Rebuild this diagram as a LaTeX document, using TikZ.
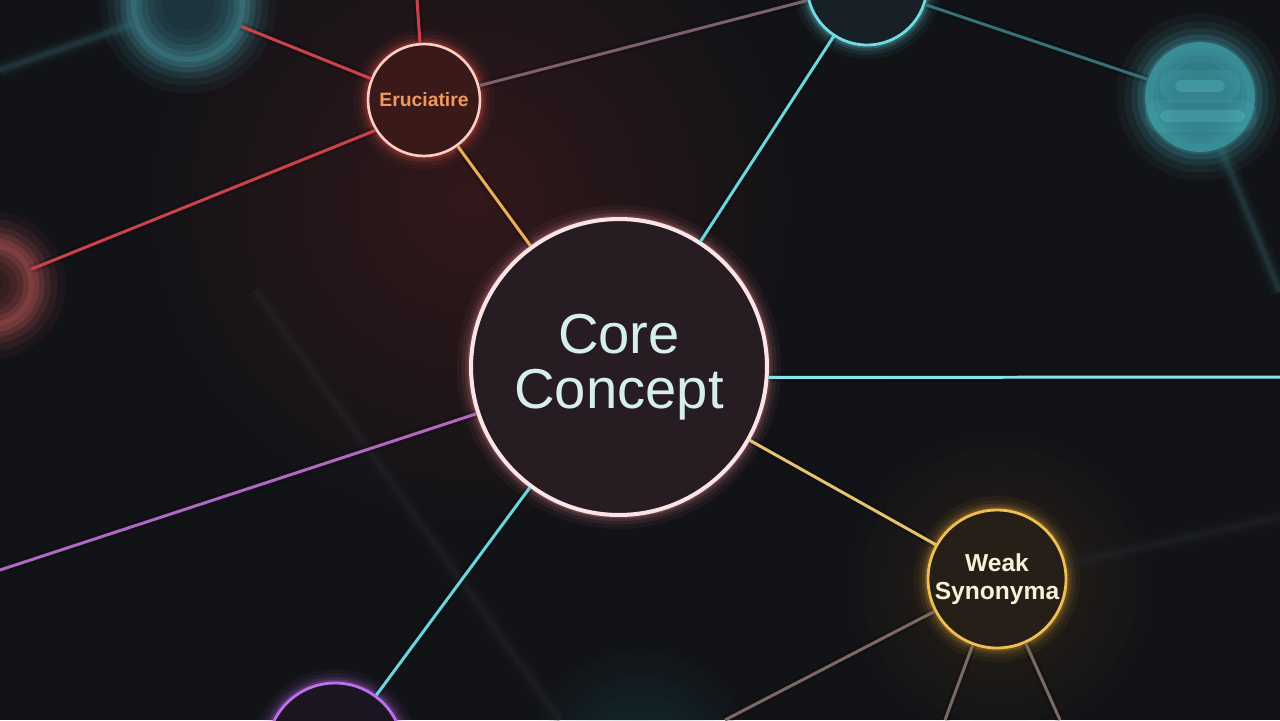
\documentclass[tikz,border=0pt]{standalone}
\usepackage{fontspec}
\setmainfont{Liberation Sans}
\usetikzlibrary{calc}

\definecolor{bgdark}{RGB}{18,19,23}
\definecolor{redglow}{RGB}{50,24,26}
\definecolor{goldglow}{RGB}{110,85,40}
\definecolor{tealglow}{RGB}{50,130,140}
\definecolor{corefill}{RGB}{38,28,33}
\definecolor{corering}{RGB}{250,228,232}
\definecolor{coreglow}{RGB}{240,140,150}
\definecolor{coretext}{RGB}{215,238,238}
\definecolor{erfill}{RGB}{58,25,25}
\definecolor{erring}{RGB}{252,205,195}
\definecolor{erglow}{RGB}{235,80,70}
\definecolor{ertext}{RGB}{242,152,92}
\definecolor{weakfill}{RGB}{38,31,24}
\definecolor{weakring}{RGB}{238,192,82}
\definecolor{weakglow}{RGB}{230,165,55}
\definecolor{weaktext}{RGB}{250,240,215}
\definecolor{topfill}{RGB}{22,32,38}
\definecolor{topring}{RGB}{110,222,228}
\definecolor{purpfill}{RGB}{28,21,34}
\definecolor{purpring}{RGB}{188,112,236}
\definecolor{tlfill}{RGB}{30,52,60}
\definecolor{tlring}{RGB}{75,160,172}
\definecolor{trfill}{RGB}{45,118,128}
\definecolor{trring}{RGB}{70,165,175}
\definecolor{trbar}{RGB}{95,200,210}
\definecolor{lfill}{RGB}{45,27,29}
\definecolor{lring}{RGB}{205,95,95}
\definecolor{rededge}{RGB}{205,65,75}
\definecolor{mauveedge}{RGB}{125,95,110}
\definecolor{orangeedge}{RGB}{235,175,85}
\definecolor{cyanedge}{RGB}{105,215,225}
\definecolor{brightcyan}{RGB}{135,230,240}
\definecolor{purpedge}{RGB}{175,105,195}
\definecolor{goldedge}{RGB}{230,195,110}
\definecolor{brownedge}{RGB}{125,105,100}
\definecolor{tealedge}{RGB}{55,112,120}
\definecolor{faintedge}{RGB}{44,48,52}

\def\glowring[#1](#2)(#3){\foreach \w/\o in {16/0.05,11/0.08,7/0.12,4/0.2}{\draw[#1, line width=\w pt, opacity=\o] (#2) circle (#3);}}
\def\blurring[#1](#2)(#3){\foreach \w/\o in {36/0.06,27/0.09,19/0.13,12/0.18,6/0.22}{\draw[#1, line width=\w pt, opacity=\o] (#2) circle (#3);}}
\def\blurline[#1](#2)(#3){\foreach \w/\o in {10/0.07,6/0.12,3/0.2}{\draw[#1, line width=\w pt, opacity=\o] (#2) -- (#3);}}
\def\softspot[#1](#2)(#3){\foreach \f in {1,0.92,...,0.3}{\fill[#1, opacity=0.025] (#2) circle (\f*#3);}}

\tikzset{
	edge/.style={line width=1.7pt, preaction={draw, line width=5pt, opacity=0.15}},
	bubble/.style={circle, inner sep=0pt, align=center},
	blurnode/.style={circle, inner sep=0pt},
	corenode/.style={bubble, draw=corering, line width=2.3pt, fill=corefill, minimum size=5.92cm, text=coretext, font=\fontsize{32}{31}\selectfont},
	erudnode/.style={bubble, draw=erring, line width=1.5pt, fill=erfill, minimum size=2.24cm, text=ertext, font=\bfseries\fontsize{11}{13}\selectfont},
	weaknode/.style={bubble, draw=weakring, line width=1.6pt, fill=weakfill, minimum size=2.76cm, text=weaktext, font=\bfseries\fontsize{14}{16}\selectfont},
	topnode/.style={bubble, draw=topring, line width=1.6pt, fill=topfill, minimum size=2.4cm},
	purpnode/.style={bubble, draw=purpring, line width=1.6pt, fill=purpfill, minimum size=2.72cm}
}

\begin{document}
\begin{tikzpicture}[x=0.02cm, y=-0.02cm]
			%%%%% START %%%%%
			
			\useasboundingbox (0,0) rectangle (1280,720);
			\clip (0,0) rectangle (1280,720);
			\fill[bgdark] (0,0) rectangle (1280,720);
			
			\shade[inner color=redglow, outer color=bgdark] (470,200) circle (330);
			\softspot[goldglow](1000,585)(150)
			\softspot[tealglow](640,760)(110)
			
			% faint lines far behind
			\coordinate (fA) at (255,290);
			\coordinate (fB) at (560,720);
			\blurline[faintedge](fA)(fB)
			
			% far away nodes, out of focus
			\node[blurnode, minimum size=2.28cm, fill=tlfill] (tl) at (188,5) {};
			\blurring[draw=tlring](tl)(57)
			\node[blurnode, minimum size=2.2cm, fill=trfill] (tr) at (1200,97) {};
			\blurring[draw=trring](tr)(52)
			\fill[trbar, opacity=0.15, rounded corners=8pt] (1160,70) rectangle (1240,102);
			\fill[trbar, opacity=0.3, rounded corners=4pt] (1175,80) rectangle (1225,92);
			\fill[trbar, opacity=0.12, rounded corners=8pt] (1145,100) rectangle (1257,132);
			\fill[trbar, opacity=0.28, rounded corners=4pt] (1160,110) rectangle (1245,122);
			\node[blurnode, minimum size=1.68cm, fill=lfill] (lred) at (-8,285) {};
			\blurring[draw=lring](lred)(42)
			
			% glows under the nodes
			\coordinate (cCore) at (619,367);
			\coordinate (cErud) at (424,100);
			\coordinate (cWeak) at (997,579);
			\coordinate (cTop) at (867,-15);
			\coordinate (cPurp) at (335,751);
			\glowring[draw=coreglow](cCore)(148)
			\glowring[draw=erglow](cErud)(56)
			\glowring[draw=weakglow](cWeak)(69)
			\glowring[draw=topring](cTop)(60)
			\glowring[draw=purpring](cPurp)(68)
			
			\node[corenode] (core) at (cCore) {Core\\Concept};
			\node[erudnode] (erud) at (cErud) {Eruciatire};
			\node[weaknode] (weak) at (cWeak) {Weak\\Synonyma};
			\node[topnode] (top) at (cTop) {};
			\node[purpnode] (purp) at (cPurp) {};
			
			% free ends at the border
			\coordinate (eTop) at (417,0);
			\coordinate (pEnd) at (0,570);
			\coordinate (rEnd) at (1280,377);
			\coordinate (trEnd) at (1280,292);
			\coordinate (tlEnd) at (0,70);
			\coordinate (wEndA) at (725,720);
			\coordinate (wEndB) at (945,720);
			\coordinate (wEndC) at (1060,720);
			\coordinate (wEndD) at (1280,517);
			
			\draw[edge, color=rededge] (erud) -- (eTop);
			\draw[edge, color=rededge] (erud) -- (tl);
			\draw[edge, color=rededge] (erud.212) -- (lred);
			\draw[edge, color=mauveedge] (erud) -- (top);
			\draw[edge, color=orangeedge] (erud) -- (core);
			
			\draw[edge, color=cyanedge] (core) -- (top);
			\draw[edge, color=brightcyan] (core.-4) -- (rEnd);
			\draw[edge, color=purpedge] (core) -- (pEnd);
			\draw[edge, color=cyanedge] (core) -- (purp);
			\draw[edge, color=goldedge] (core) -- (weak);
			
			\draw[edge, color=tealedge] (top) -- (tr);
			\blurline[tealedge](tr)(trEnd)
			\blurline[tealedge](tl)(tlEnd)
			
			\draw[edge, color=brownedge] (weak) -- (wEndA);
			\draw[edge, color=brownedge] (weak) -- (wEndB);
			\draw[edge, color=brownedge] (weak) -- (wEndC);
			\blurline[faintedge](weak)(wEndD)
			
			%%%%% END %%%%%
\end{tikzpicture}
\end{document}
